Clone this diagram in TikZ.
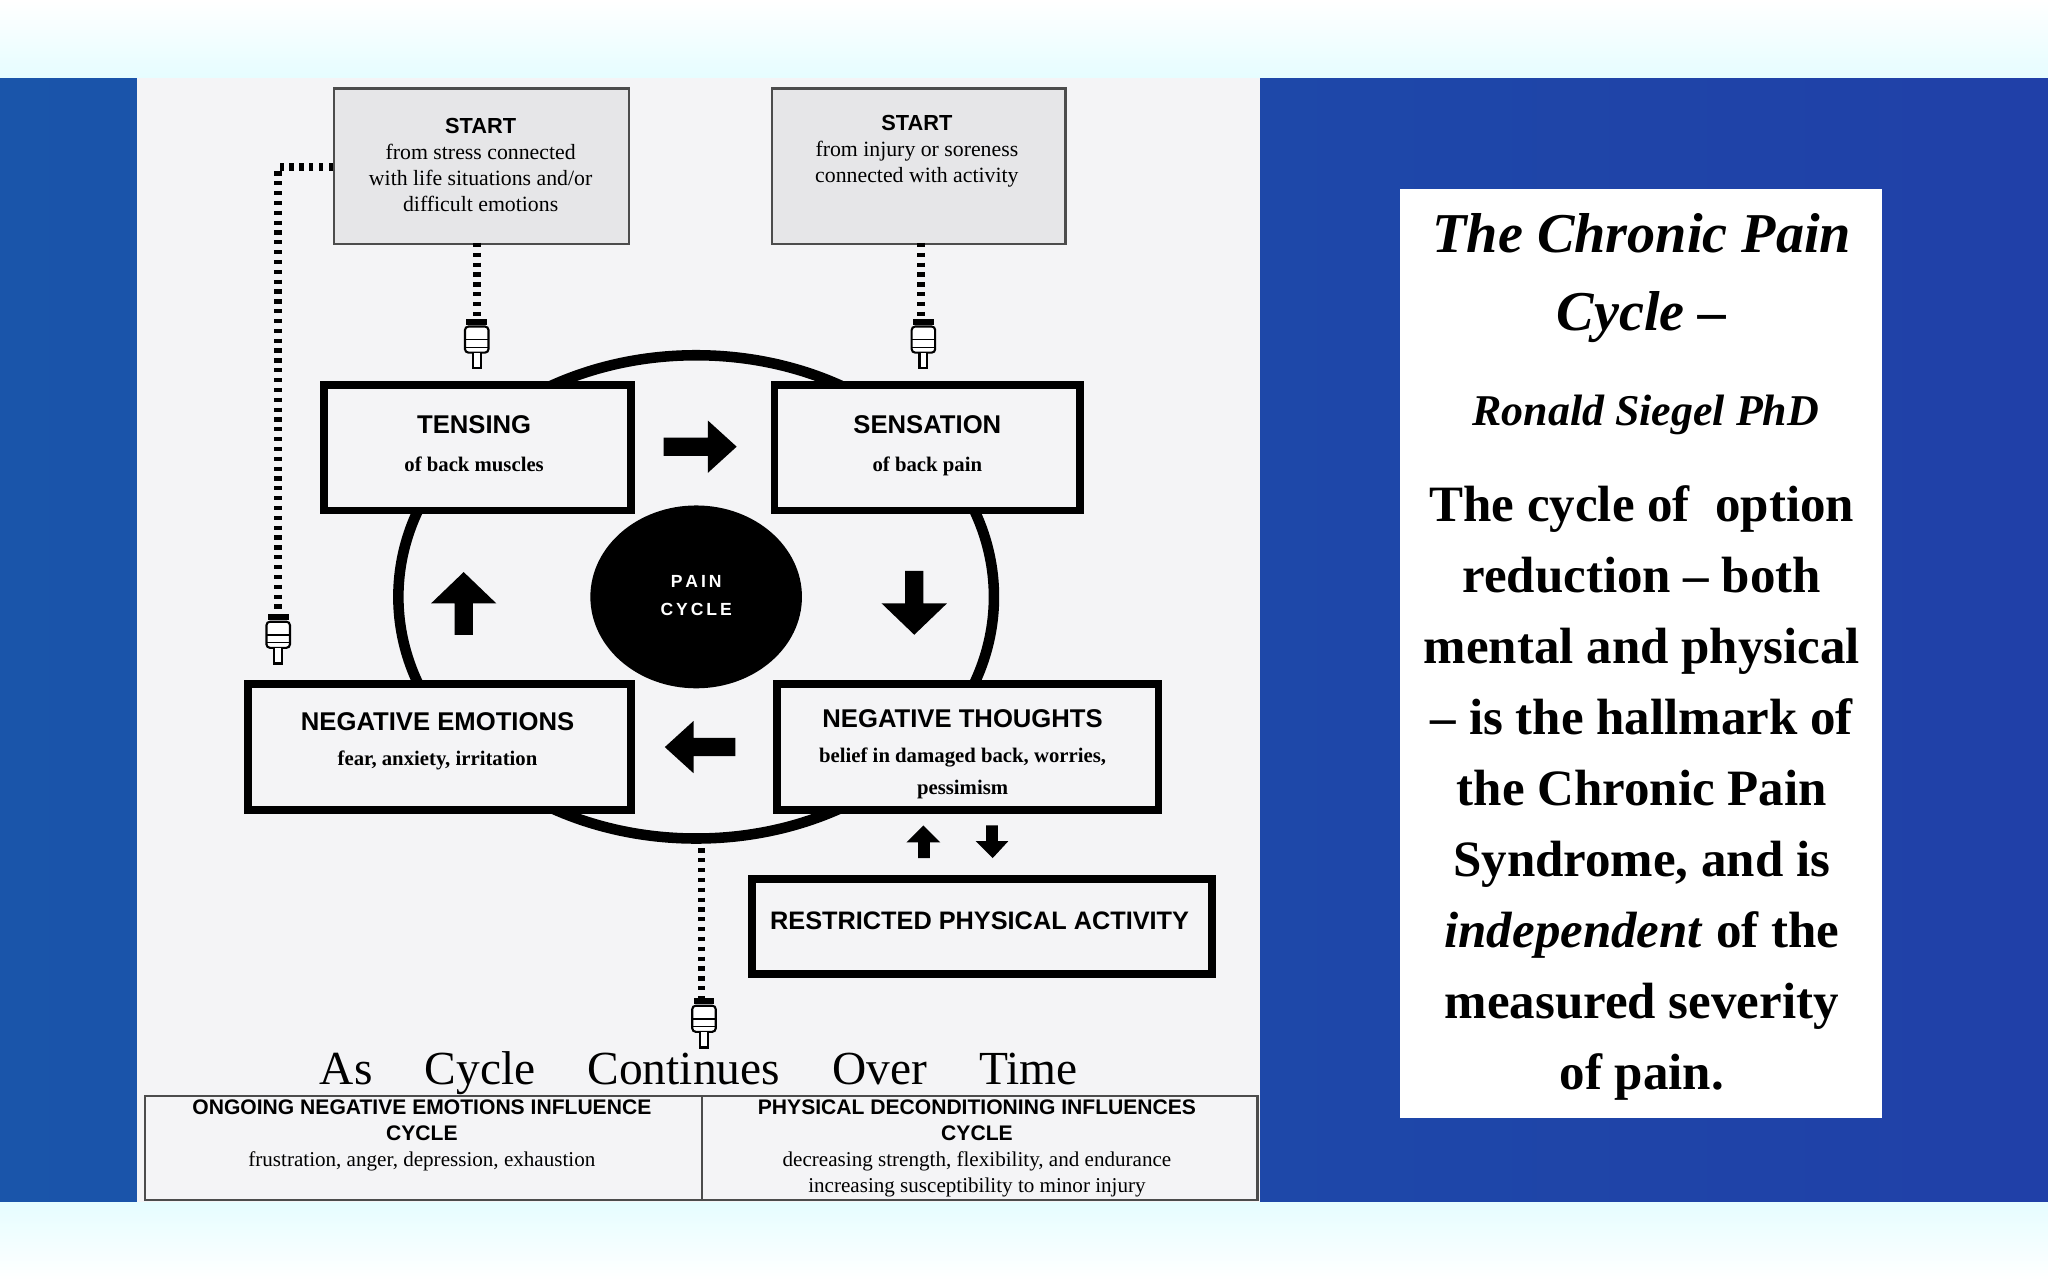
\documentclass[tikz,border=0pt]{standalone}
\usepackage{fontspec}
\setmainfont{Liberation Serif}
\newfontfamily\sanf{Liberation Sans}
\usetikzlibrary{patterns,arrows.meta}
\definecolor{bgblue}{HTML}{1A55AA}
\definecolor{bgblue2}{HTML}{2040A8}
\definecolor{panel}{HTML}{F4F4F6}
\definecolor{gbox}{HTML}{E6E6E8}
\tikzset{
 thickbox/.style={draw=black,line width=2.2pt,fill=panel},
 startbox/.style={draw=black!70,line width=0.6pt,fill=gbox},
 dotline/.style={line width=2.2pt,dash pattern=on 1.2pt off 1.6pt},
 st/.style={font=\fontsize{6.2}{7.4}\selectfont,align=center},
}
\newcommand{\hand}[2]{%
 \draw[black,line width=0.6pt,fill=white,rounded corners=1pt] (#1-9,#2-18) rectangle (#1+9,#2+2);
 \draw[black,line width=0.6pt,fill=white] (#1-3,#2+2) -- (#1-3,#2+14) -- (#1+3,#2+14) -- (#1+3,#2+2);
 \draw[black,line width=0.5pt] (#1-9,#2-8) -- (#1+9,#2-8) (#1-9,#2-2)--(#1+9,#2-2);
 \fill (#1-8,#2-24) rectangle (#1+8,#2-19);}
\begin{document}
\begin{tikzpicture}[x=0.01306cm,y=-0.01306cm]
\useasboundingbox (0,0) rectangle (1568,980);
% background
\shade[top color=white,bottom color=blue!8!cyan!10] (0,0) rectangle (1568,60);
\shade[top color=blue!8!cyan!10,bottom color=white] (0,920) rectangle (1568,980);
\shade[left color=bgblue,right color=bgblue2] (0,60) rectangle (1568,920);
\fill[panel] (105,60) rectangle (965,920);
% start boxes
\node[startbox,minimum width=226*0.01306cm,minimum height=119*0.01306cm,anchor=north west,inner sep=0] (s1) at (255,67) {};
\node[st] at (368,126) {{\sanf\bfseries START}\\from stress connected\\with life situations and/or\\difficult emotions};
\node[startbox,minimum width=225*0.01306cm,minimum height=119*0.01306cm,anchor=north west,inner sep=0] (s2) at (590,67) {};
\node[st] at (702,116) {{\sanf\bfseries START}\\from injury or soreness\\connected with activity};
% big circle
\draw[line width=3pt] (533,457) ellipse [x radius=228,y radius=185];
\fill (533,457) ellipse [x radius=81,y radius=70];
\node[text=white,font=\sanf\bfseries\fontsize{5}{7}\selectfont,align=center] (pc) at (533,456) {P\,A\,I\,N\\[1pt]C\,Y\,C\,L\,E};
% main boxes
\node[thickbox,anchor=north west,minimum width=235*0.01306cm,minimum height=96*0.01306cm] (t) at (245,292) {};
\node[align=center] at (363,340) {\begin{tabular}{c}{\sanf\bfseries\fontsize{7.3}{8}\selectfont TENSING}\\[-1pt]{\fontsize{5.9}{7}\selectfont\bfseries of back muscles}\end{tabular}};
\node[thickbox,anchor=north west,minimum width=234*0.01306cm,minimum height=96*0.01306cm] (s) at (590,292) {};
\node at (710,340) {\begin{tabular}{c}{\sanf\bfseries\fontsize{7.3}{8}\selectfont SENSATION}\\[-1pt]{\fontsize{5.9}{7}\selectfont\bfseries of back pain}\end{tabular}};
\node[thickbox,anchor=north west,minimum width=293*0.01306cm,minimum height=96*0.01306cm] (ne) at (187,521) {};
\node at (335,566) {\begin{tabular}{c}{\sanf\bfseries\fontsize{7.3}{8}\selectfont NEGATIVE EMOTIONS}\\[-2pt]{\fontsize{5.9}{7}\selectfont\bfseries fear, anxiety, irritation}\end{tabular}};
\node[thickbox,anchor=north west,minimum width=292*0.01306cm,minimum height=96*0.01306cm] (nt) at (592,521) {};
\node at (737,576) {\begin{tabular}{c}{\sanf\bfseries\fontsize{7.3}{8}\selectfont NEGATIVE THOUGHTS}\\[-2pt]{\fontsize{5.9}{7}\selectfont\bfseries belief in damaged back, worries,}\\[-3pt]{\fontsize{5.9}{7}\selectfont\bfseries pessimism}\end{tabular}};
\node[thickbox,anchor=north west,minimum width=352*0.01306cm,minimum height=73*0.01306cm] (r) at (573,670) {};
\node[font=\sanf\bfseries\fontsize{7.2}{9}\selectfont] at (750,705) {RESTRICTED PHYSICAL ACTIVITY};
% block arrows
\fill (508,335)--(542,335)--(542,322)--(564,342)--(542,362)--(542,349)--(508,349)--cycle;
\fill (563,565)--(531,565)--(531,552)--(509,572)--(531,592)--(531,579)--(563,579)--cycle;
\fill (693,437)--(707,437)--(707,462)--(725,462)--(700,486)--(675,462)--(693,462)--cycle;
\fill (348,486)--(362,486)--(362,462)--(380,462)--(355,438)--(330,462)--(348,462)--cycle;
\fill (703,657)--(712,657)--(712,645)--(720,645)--(707,632)--(694,645)--(703,645)--cycle;
\fill (755,632)--(764,632)--(764,644)--(772,644)--(760,657)--(747,644)--(755,644)--cycle;
% dotted connectors
\coordinate (a1) at (365,186); \coordinate (b1) at (365,245);
\coordinate (a2) at (705,186); \coordinate (b2) at (705,245);
\draw[dotline] (a1)--(b1); \draw[dotline] (a2)--(b2);
\coordinate (l0) at (255,128); \coordinate (l1) at (213,128); \coordinate (l2) at (213,470);
\draw[dotline] (l0)--(l1)--(l2);
\coordinate (c0) at (537,642); \coordinate (c1) at (537,765);
\draw[dotline] (c0)--(c1);
\hand{365}{268}\hand{707}{268}\hand{213}{494}\hand{539}{788}
% bottom
\node[font=\fontsize{13.5}{14}\selectfont] at (535,822) {As\hspace{1.1em}Cycle\hspace{1.1em}Continues\hspace{1.1em}Over\hspace{1.1em}Time};
\node[startbox,anchor=north west,minimum width=427*0.01306cm,minimum height=80*0.01306cm,fill=panel] (bb1) at (110,838) {};
\node[startbox,anchor=north west,minimum width=425*0.01306cm,minimum height=80*0.01306cm,fill=panel] (bb2) at (537,838) {};
\node[align=center,font=\fontsize{6}{7.4}\selectfont] at (323,869) {{\sanf\bfseries ONGOING NEGATIVE EMOTIONS INFLUENCE}\\{\sanf\bfseries CYCLE}\\frustration, anger, depression, exhaustion};
\node[align=center,font=\fontsize{6}{7.4}\selectfont] at (748,879) {{\sanf\bfseries PHYSICAL DECONDITIONING INFLUENCES}\\{\sanf\bfseries CYCLE}\\decreasing strength, flexibility, and endurance\\increasing susceptibility to minor injury};
% right panel
\fill[white] (1072,145) rectangle (1441,856);
\node[font=\bfseries\itshape\fontsize{16}{22}\selectfont,align=center] at (1257,213) {The Chronic Pain\\Cycle --};
\node[font=\bfseries\itshape\fontsize{12.5}{14}\selectfont] at (1260,318) {Ronald Siegel PhD};
\node[font=\bfseries\fontsize{14.5}{20.2}\selectfont,align=center] at (1257,607) {The cycle of\ \ option\\reduction -- both\\mental and physical\\-- is the hallmark of\\the Chronic Pain\\Syndrome, and is\\\textit{independent} of the\\measured severity\\of pain.};
\end{tikzpicture}
\end{document}
